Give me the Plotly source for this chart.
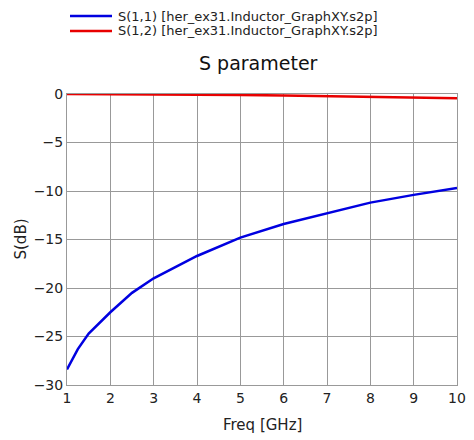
import plotly.graph_objects as go

freq_s11 = [1, 1.25, 1.5, 2, 2.5, 3, 4, 5, 6, 7, 8, 9, 10]
s11_db = [-28.4, -26.3, -24.7, -22.5, -20.5, -19.0, -16.7, -14.8, -13.4, -12.3, -11.2, -10.4, -9.7]

freq_s12 = [1, 2, 3, 4, 5, 6, 7, 8, 9, 10]
s12_db = [0.0, -0.01, -0.03, -0.06, -0.1, -0.15, -0.21, -0.28, -0.36, -0.45]

name_s11 = "S(1,1) [her_ex31.Inductor_GraphXY.s2p]"
name_s12 = "S(1,2) [her_ex31.Inductor_GraphXY.s2p]"
colors = ["#0000e0", "#e80000"]

font = "DejaVu Sans, Liberation Sans, sans-serif"

W, H = 466, 432  # page adds 8px body margin
ML, MR, MT, MB = 59, 17, 86, 55
PW, PH = W - ML - MR, H - MT - MB

fig = go.Figure()
fig.add_trace(go.Scatter(x=freq_s11, y=s11_db, mode="lines", name=name_s11,
                         line=dict(color=colors[0], width=2.5)))
fig.add_trace(go.Scatter(x=freq_s12, y=s12_db, mode="lines", name=name_s12,
                         line=dict(color=colors[1], width=2.5)))

def px_to_paper_x(px):
    return (px - ML) / PW

def px_to_paper_y(py):
    return 1 - (py - MT) / PH

shapes = []
annotations = []
for i, (nm, col) in enumerate(zip([name_s11, name_s12], colors)):
    ry = 8 + 15 * i
    shapes.append(dict(type="line", xref="paper", yref="paper",
                       x0=px_to_paper_x(62), x1=px_to_paper_x(104),
                       y0=px_to_paper_y(ry), y1=px_to_paper_y(ry),
                       line=dict(color=col, width=2.5)))
    annotations.append(dict(text=nm, xref="paper", yref="paper",
                            x=px_to_paper_x(109), y=px_to_paper_y(ry),
                            xanchor="left", yanchor="middle", showarrow=False,
                            borderpad=0,
                            font=dict(size=13, color="#222", family=font)))

annotations.append(dict(text="S parameter", xref="paper", yref="paper",
                        x=px_to_paper_x(250), y=px_to_paper_y(55),
                        xanchor="center", yanchor="middle", showarrow=False,
                        font=dict(size=19, color="#111", family=font)))
annotations.append(dict(text="Freq [GHz]", xref="paper", yref="paper",
                        x=0.5, y=px_to_paper_y(417),
                        xanchor="center", yanchor="middle", showarrow=False,
                        font=dict(size=15, color="#222", family=font)))
annotations.append(dict(text="S(dB)", xref="paper", yref="paper",
                        x=px_to_paper_x(12), y=0.5, textangle=-90,
                        xanchor="center", yanchor="middle", showarrow=False,
                        font=dict(size=15, color="#222", family=font)))

fig.update_layout(
    width=W, height=H,
    margin=dict(l=ML, r=MR, t=MT, b=MB, autoexpand=False),
    paper_bgcolor="white", plot_bgcolor="white",
    font=dict(family=font, size=14, color="#222"),
    showlegend=False,
    shapes=shapes,
    annotations=annotations,
    xaxis=dict(range=[1, 10], dtick=1, tick0=1, showgrid=True, gridcolor="#999",
               gridwidth=1, showline=True, linecolor="#999", mirror=True,
               zeroline=False, ticks="", tickfont=dict(size=14)),
    yaxis=dict(range=[-30, 0], dtick=5, showgrid=True, gridcolor="#999",
               gridwidth=1, showline=True, linecolor="#999", mirror=True,
               zeroline=False, ticks="", tickfont=dict(size=14)),
)

fig.write_html("out.html")
